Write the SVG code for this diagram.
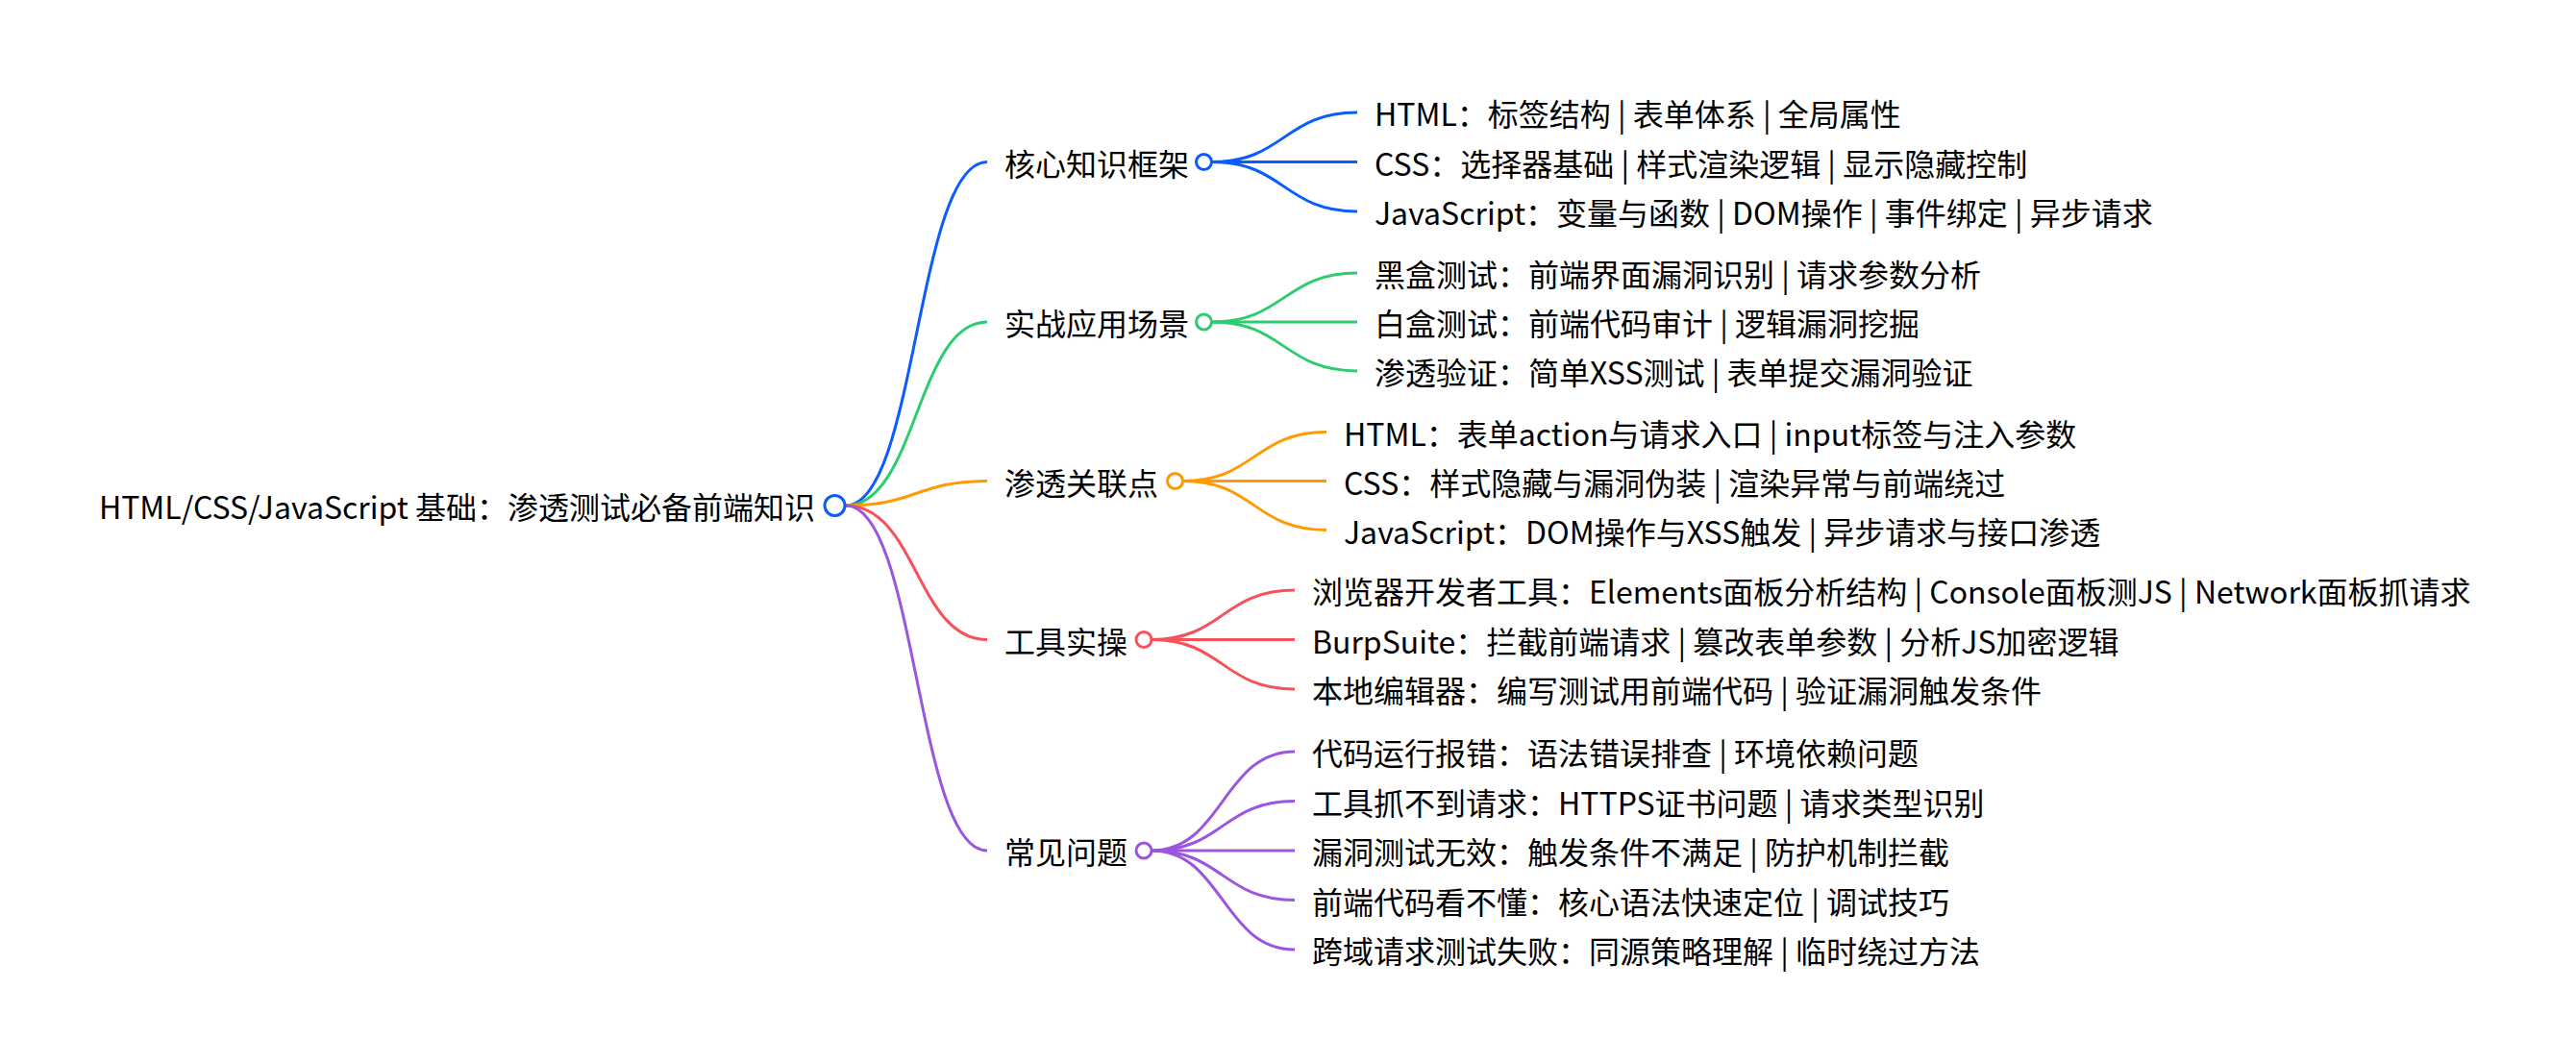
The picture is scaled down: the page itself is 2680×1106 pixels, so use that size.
<svg xmlns="http://www.w3.org/2000/svg" width="2680" height="1106" viewBox="0 0 2680 1106">
<style>
text{font-family:"Noto Sans CJK SC","Noto Sans",sans-serif;font-size:32px;fill:#000;dominant-baseline:central}
.end{text-anchor:end}
path{fill:none;stroke-width:3}
circle{fill:#fff;stroke-width:3}
.b{stroke:#0b5cff}.g{stroke:#2ecc6e}.o{stroke:#ff9a00}.r{stroke:#f7525a}.p{stroke:#9b55e0}
</style>
<rect width="2680" height="1106" fill="#fff"/>
<g id="connectors">
<path class="b" d="M880,526 C953.5,526 953.5,168.5 1027,168.5"/>
<path class="g" d="M880,526 C953.5,526 953.5,335 1027,335"/>
<path class="o" d="M880,526 C953.5,526 953.5,500.5 1027,500.5"/>
<path class="r" d="M880,526 C953.5,526 953.5,665.5 1027,665.5"/>
<path class="p" d="M880,526 C953.5,526 953.5,885 1027,885"/>
<path class="b" d="M1261,168.5 C1336,168.5 1336,117 1412,117"/>
<path class="b" d="M1261,168.5 L1412,168.5"/>
<path class="b" d="M1261,168.5 C1336,168.5 1336,220 1412,220"/>
<path class="g" d="M1261,335 C1336,335 1336,284 1412,284"/>
<path class="g" d="M1261,335 L1412,335"/>
<path class="g" d="M1261,335 C1336,335 1336,386 1412,386"/>
<path class="o" d="M1231,500.5 C1305,500.5 1305,449.5 1380,449.5"/>
<path class="o" d="M1231,500.5 L1380,500.5"/>
<path class="o" d="M1231,500.5 C1305,500.5 1305,551.5 1380,551.5"/>
<path class="r" d="M1198,665.5 C1272,665.5 1272,614 1347,614"/>
<path class="r" d="M1198,665.5 L1347,665.5"/>
<path class="r" d="M1198,665.5 C1272,665.5 1272,717 1347,717"/>
<path class="p" d="M1198,885 C1272,885 1272,782 1347,782"/>
<path class="p" d="M1198,885 C1272,885 1272,833.5 1347,833.5"/>
<path class="p" d="M1198,885 L1347,885"/>
<path class="p" d="M1198,885 C1272,885 1272,936.5 1347,936.5"/>
<path class="p" d="M1198,885 C1272,885 1272,988 1347,988"/>
</g>
<g id="root"><text class="end" x="848" y="526">HTML/CSS/JavaScript 基础：渗透测试必备前端知识</text><circle class="b" cx="868.5" cy="526" r="10.5"/></g>
<g id="n1"><text x="1045" y="168.5">核心知识框架</text><circle class="b" cx="1252.5" cy="168.5" r="8"/></g>
<g id="n1a"><text x="1430" y="117">HTML：标签结构 | 表单体系 | 全局属性</text></g>
<g id="n1b"><text x="1430" y="168.5">CSS：选择器基础 | 样式渲染逻辑 | 显示隐藏控制</text></g>
<g id="n1c"><text x="1430" y="220">JavaScript：变量与函数 | DOM操作 | 事件绑定 | 异步请求</text></g>
<g id="n2"><text x="1045" y="335">实战应用场景</text><circle class="g" cx="1252.5" cy="335" r="8"/></g>
<g id="n2a"><text x="1430" y="284">黑盒测试：前端界面漏洞识别 | 请求参数分析</text></g>
<g id="n2b"><text x="1430" y="335">白盒测试：前端代码审计 | 逻辑漏洞挖掘</text></g>
<g id="n2c"><text x="1430" y="386">渗透验证：简单XSS测试 | 表单提交漏洞验证</text></g>
<g id="n3"><text x="1045" y="500.5">渗透关联点</text><circle class="o" cx="1222.5" cy="500.5" r="8"/></g>
<g id="n3a"><text x="1398" y="449.5">HTML：表单action与请求入口 | input标签与注入参数</text></g>
<g id="n3b"><text x="1398" y="500.5">CSS：样式隐藏与漏洞伪装 | 渲染异常与前端绕过</text></g>
<g id="n3c"><text x="1398" y="551.5">JavaScript：DOM操作与XSS触发 | 异步请求与接口渗透</text></g>
<g id="n4"><text x="1045" y="665.5">工具实操</text><circle class="r" cx="1190" cy="665.5" r="8"/></g>
<g id="n4a"><text x="1365" y="614">浏览器开发者工具：Elements面板分析结构 | Console面板测JS | Network面板抓请求</text></g>
<g id="n4b"><text x="1365" y="665.5">BurpSuite：拦截前端请求 | 篡改表单参数 | 分析JS加密逻辑</text></g>
<g id="n4c"><text x="1365" y="717">本地编辑器：编写测试用前端代码 | 验证漏洞触发条件</text></g>
<g id="n5"><text x="1045" y="885">常见问题</text><circle class="p" cx="1190" cy="885" r="8"/></g>
<g id="n5a"><text x="1365" y="782">代码运行报错：语法错误排查 | 环境依赖问题</text></g>
<g id="n5b"><text x="1365" y="833.5">工具抓不到请求：HTTPS证书问题 | 请求类型识别</text></g>
<g id="n5c"><text x="1365" y="885">漏洞测试无效：触发条件不满足 | 防护机制拦截</text></g>
<g id="n5d"><text x="1365" y="936.5">前端代码看不懂：核心语法快速定位 | 调试技巧</text></g>
<g id="n5e"><text x="1365" y="988">跨域请求测试失败：同源策略理解 | 临时绕过方法</text></g>
</svg>
